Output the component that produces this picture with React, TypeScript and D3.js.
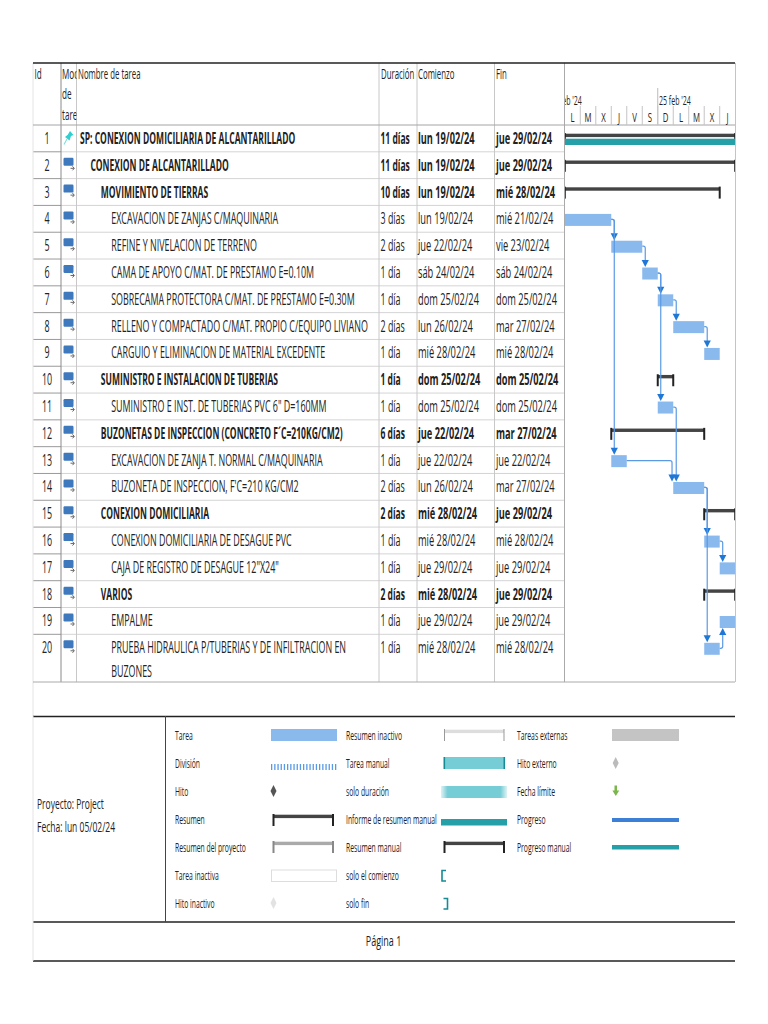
import React from "react";
import * as d3 from "d3";

const taskNames = [
  "SP: CONEXION DOMICILIARIA DE ALCANTARILLADO",
  "CONEXION DE ALCANTARILLADO",
  "MOVIMIENTO DE TIERRAS",
  "EXCAVACION DE ZANJAS C/MAQUINARIA",
  "REFINE Y NIVELACION DE TERRENO",
  "CAMA DE APOYO C/MAT. DE PRESTAMO E=0.10M",
  "SOBRECAMA PROTECTORA C/MAT. DE PRESTAMO E=0.30M",
  "RELLENO Y COMPACTADO C/MAT. PROPIO C/EQUIPO LIVIANO",
  "CARGUIO Y ELIMINACION DE MATERIAL EXCEDENTE",
  "SUMINISTRO E INSTALACION DE TUBERIAS",
  "SUMINISTRO E INST. DE TUBERIAS PVC 6\" D=160MM",
  "BUZONETAS DE INSPECCION (CONCRETO F´C=210KG/CM2)",
  "EXCAVACION DE ZANJA T. NORMAL C/MAQUINARIA",
  "BUZONETA DE INSPECCION, F'C=210 KG/CM2",
  "CONEXION DOMICILIARIA",
  "CONEXION DOMICILIARIA DE DESAGUE PVC",
  "CAJA DE REGISTRO DE DESAGUE 12\"X24\"",
  "VARIOS",
  "EMPALME",
  "PRUEBA HIDRAULICA P/TUBERIAS Y DE INFILTRACION EN|BUZONES",
];
const levels = [0, 1, 2, 3, 3, 3, 3, 3, 3, 2, 3, 2, 3, 3, 2, 3, 3, 2, 3, 3];
const durations = ["11 días", "11 días", "10 días", "3 días", "2 días", "1 día", "1 día", "2 días", "1 día", "1 día", "1 día", "6 días", "1 día", "2 días", "2 días", "1 día", "1 día", "2 días", "1 día", "1 día"];
const starts = ["lun 19/02/24", "lun 19/02/24", "lun 19/02/24", "lun 19/02/24", "jue 22/02/24", "sáb 24/02/24", "dom 25/02/24", "lun 26/02/24", "mié 28/02/24", "dom 25/02/24", "dom 25/02/24", "jue 22/02/24", "jue 22/02/24", "lun 26/02/24", "mié 28/02/24", "mié 28/02/24", "jue 29/02/24", "mié 28/02/24", "jue 29/02/24", "mié 28/02/24"];
const ends = ["jue 29/02/24", "jue 29/02/24", "mié 28/02/24", "mié 21/02/24", "vie 23/02/24", "sáb 24/02/24", "dom 25/02/24", "mar 27/02/24", "mié 28/02/24", "dom 25/02/24", "dom 25/02/24", "mar 27/02/24", "jue 22/02/24", "mar 27/02/24", "jue 29/02/24", "mié 28/02/24", "jue 29/02/24", "jue 29/02/24", "jue 29/02/24", "mié 28/02/24"];
const summaryIds = [1, 2, 3, 10, 12, 15, 18];
const dayLetters = ["L", "M", "X", "J", "V", "S", "D", "L", "M", "X", "J"];
// predecessor id, successor id
const links = [[4, 5], [5, 6], [6, 7], [7, 8], [8, 9], [6, 11], [4, 13], [11, 14], [13, 14], [14, 16], [16, 17], [14, 20], [20, 19]];

const legendCol1 = ["Tarea", "División", "Hito", "Resumen", "Resumen del proyecto", "Tarea inactiva", "Hito inactivo"];
const legendCol2 = ["Resumen inactivo", "Tarea manual", "solo duración", "Informe de resumen manual", "Resumen manual", "solo el comienzo", "solo fin"];
const legendCol3 = ["Tareas externas", "Hito externo", "Fecha límite", "Progreso", "Progreso manual"];

const FONT = "'Open Sans', sans-serif";
const parseDay = d3.timeParse("%d/%m/%y");
const dateOf = (s: string) => parseDay(s.split(" ")[1]) as Date;

const x = d3.scaleTime()
  .domain([new Date(2024, 1, 19), new Date(2024, 2, 1)])
  .range([564.8, 735.2]);
const rowTop = d3.scaleLinear().domain([0, 19]).range([125, 634.3]);
const legendY = d3.scalePoint<number>().domain([0, 1, 2, 3, 4, 5, 6]).range([735, 903]);

const barStart = (id: number) => x(dateOf(starts[id - 1]));
const barEnd = (id: number) => x(d3.timeDay.offset(dateOf(ends[id - 1]), 1));

const T = ({x: tx, y, children, bold, size = 15.5, sx = 0.575, anchor = "start", fill = "#222"}: any) => (
  <text
    transform={`translate(${tx},${y}) scale(${sx},1)`}
    fontFamily={FONT}
    fontSize={size}
    fontWeight={bold ? 700 : 400}
    textAnchor={anchor}
    fill={fill}
  >
    {children}
  </text>
);

const linkPath = (from: number, to: number) => {
  const x0 = barEnd(from);
  const sx = barStart(to);
  const bx = Math.abs(sx - x0) < 1 ? sx + 3 : sx - 1.2;
  const y0 = rowTop(from - 1) + 14;
  const up = to < from;
  const y1 = up ? rowTop(to - 1) + 20.5 : rowTop(to - 1) + 8;
  const dir = up ? -1 : 1;
  const p = d3.path();
  p.moveTo(x0, y0);
  p.lineTo(bx - 2, y0);
  p.quadraticCurveTo(bx, y0, bx, y0 + 2 * dir);
  p.lineTo(bx, y1 - 5 * dir);
  const a = d3.path();
  a.moveTo(bx - 3.6, y1 - 7 * dir);
  a.lineTo(bx + 3.6, y1 - 7 * dir);
  a.lineTo(bx, y1);
  a.closePath();
  return {line: p.toString(), head: a.toString()};
};

const SummaryBar = ({x0, x1, top, bar = "#444", cap = "#222", capW = 2, barH = 3.4}: any) => (
  <g>
    <rect x={x0} y={top + 0.7} width={x1 - x0} height={barH} fill={bar} />
    <rect x={x0 - capW / 2} y={top} width={capW} height={12} fill={cap} />
    <rect x={x1 - capW / 2} y={top} width={capW} height={12} fill={cap} />
  </g>
);

const diamond = (cx: number, cy: number, rx: number, ry: number) =>
  `M${cx},${cy - ry}L${cx + rx},${cy}L${cx},${cy + ry}L${cx - rx},${cy}Z`;

const TaskIcon = ({y}: {y: number}) => (
  <g>
    <rect x={63.5} y={y + 6} width={10} height={8} rx={1.2} fill="#3f79bd" />
    <path d={`M70.5,${y + 16.5}h3.5 M72.5,${y + 14.5}l1.8,2l-1.8,2`} fill="none" stroke="#666" strokeWidth={1} />
  </g>
);

const PinIcon = ({y}: {y: number}) => (
  <g>
    <path d={`M70,${y + 6}l3.5,4l-2.5,1l-1.5,4.5l-4.5,-3.5l2.8,-2.2z`} fill="#2fd0d0" />
    <path d={`M67,${y + 14}l-3,5.5`} stroke="#7adede" strokeWidth={1.1} />
  </g>
);

const App = () => {
  const dayStarts = d3.timeDay.range(new Date(2024, 1, 19), new Date(2024, 2, 1));
  const vLines = [61, 76.5, 379, 417, 494.5];
  const tableBottom = rowTop(19) + 47.7;

  return (
    <svg width={768} height={1024} style={{position: "absolute", left: 0, top: 0, background: "#fff"}}>
      <defs>
        <clipPath id="modeCol"><rect x={61} y={63} width={15.5} height={62} /></clipPath>
        <clipPath id="timeCol"><rect x={565} y={63} width={170} height={620} /></clipPath>
        <linearGradient id="durationFill">
          <stop offset="0" stopColor="#77cdd6" stopOpacity={0.25} />
          <stop offset="0.1" stopColor="#77cdd6" />
          <stop offset="0.9" stopColor="#77cdd6" />
          <stop offset="1" stopColor="#77cdd6" stopOpacity={0.25} />
        </linearGradient>
      </defs>

      {/* table grid */}
      {d3.range(1, 20).map((i) => (
        <g key={i}>
          <line x1={33} x2={61} y1={rowTop(i)} y2={rowTop(i)} stroke="#999" strokeWidth={1} />
          <line x1={61} x2={564} y1={rowTop(i)} y2={rowTop(i)} stroke="#d4d4d4" strokeWidth={1} />
        </g>
      ))}
      {vLines.map((v, i) => (
        <line key={v} x1={v} x2={v} y1={63} y2={tableBottom} stroke={i === 0 ? "#8a8a8a" : "#c8c8c8"} strokeWidth={1} />
      ))}
      <line x1={33} x2={33} y1={63} y2={716} stroke="#e4e4e4" strokeWidth={1} />
      <line x1={564.5} x2={564.5} y1={63} y2={tableBottom} stroke="#aaa" strokeWidth={1} />
      <line x1={735.5} x2={735.5} y1={63} y2={tableBottom} stroke="#c4c4c4" strokeWidth={1} />
      <line x1={33} x2={735} y1={125} y2={125} stroke="#a4a4a4" strokeWidth={1} />
      <line x1={33} x2={735} y1={tableBottom} y2={tableBottom} stroke="#aaa" strokeWidth={1} />
      <line x1={33} x2={735} y1={63} y2={63} stroke="#222" strokeWidth={1.4} />

      {/* header */}
      <T x={34.5} y={79} size={14.5} sx={0.56}>Id</T>
      <g clipPath="url(#modeCol)">
        <T x={62} y={79} size={14.5} sx={0.56}>Mod</T>
        <T x={62} y={99} size={14.5} sx={0.56}>de</T>
        <T x={62} y={120} size={14.5} sx={0.56}>tare</T>
      </g>
      <T x={78} y={79} size={14.5} sx={0.54}>Nombre de tarea</T>
      <T x={381} y={79} size={14.5} sx={0.54}>Duración</T>
      <T x={418} y={79} size={14.5} sx={0.54}>Comienzo</T>
      <T x={496} y={79} size={14.5} sx={0.54}>Fin</T>
      <g clipPath="url(#timeCol)">
        <T x={550} y={105} size={13} sx={0.54}>18 feb '24</T>
        <T x={659} y={105} size={13} sx={0.54}>25 feb '24</T>
      </g>
      <line x1={x(new Date(2024, 1, 25))} x2={x(new Date(2024, 1, 25))} y1={88} y2={125} stroke="#bbb" />
      {dayStarts.map((d, i) => (
        <g key={i}>
          {i > 0 && <line x1={x(d)} x2={x(d)} y1={106} y2={125} stroke="#c4c4c4" />}
          <T x={x(d3.timeHour.offset(d, 12))} y={122} size={13} sx={0.6} anchor="middle">{dayLetters[i]}</T>
        </g>
      ))}

      {/* rows */}
      {taskNames.map((name, i) => {
        const top = rowTop(i);
        const bold = summaryIds.includes(i + 1);
        const lines = name.split("|");
        const nameX = 80 + levels[i] * 10.4;
        const textSx = bold ? 0.55 : 0.575;
        const dateSx = bold ? 0.595 : 0.6;
        return (
          <g key={i}>
            <T x={47} y={top + 19} anchor="middle">{i + 1}</T>
            {i === 0 ? <PinIcon y={top} /> : <TaskIcon y={top} />}
            {lines.map((l, j) => (
              <T key={j} x={nameX} y={top + 19 + j * 24} bold={bold} sx={textSx}>{l}</T>
            ))}
            <T x={380.5} y={top + 19} bold={bold} sx={textSx}>{durations[i]}</T>
            <T x={418} y={top + 19} bold={bold} sx={dateSx}>{starts[i]}</T>
            <T x={496} y={top + 19} bold={bold} sx={dateSx}>{ends[i]}</T>
          </g>
        );
      })}

      {/* bars */}
      <g clipPath="url(#timeCol)">
        {taskNames.map((_, i) => {
          const id = i + 1;
          const top = rowTop(i);
          if (summaryIds.includes(id)) {
            return <SummaryBar key={id} x0={barStart(id)} x1={barEnd(id)} top={top + 8} />;
          }
          return (
            <rect key={id} x={barStart(id)} y={top + 8.5} width={barEnd(id) - barStart(id)} height={12} fill="#8ab9ee" />
          );
        })}
        <rect x={barStart(1)} y={rowTop(0) + 13.7} width={barEnd(1) - barStart(1)} height={6.3} fill="#26a0a8" />
        {links.map(([from, to]) => {
          const {line, head} = linkPath(from, to);
          return (
            <g key={`${from}-${to}`}>
              <path d={line} fill="none" stroke="#5a9ae4" strokeWidth={1.2} />
              <path d={head} fill="#1f78d8" />
            </g>
          );
        })}
      </g>

      {/* legend frame */}
      <line x1={33} x2={735} y1={716.5} y2={716.5} stroke="#222" strokeWidth={1.4} />
      <line x1={33} x2={735} y1={922} y2={922} stroke="#222" strokeWidth={1.4} />
      <line x1={33} x2={735} y1={961} y2={961} stroke="#222" strokeWidth={1.4} />
      <line x1={165.5} x2={165.5} y1={716} y2={922} stroke="#444" strokeWidth={1} />
      <line x1={33} x2={33} y1={716} y2={961} stroke="#e4e4e4" strokeWidth={1} />
      <T x={37} y={809} size={15} sx={0.565}>Proyecto: Project</T>
      <T x={37} y={832} size={15} sx={0.57}>Fecha: lun 05/02/24</T>
      <T x={383.5} y={946} size={15} sx={0.6} anchor="middle">Página 1</T>

      {legendCol1.map((l, i) => <T key={l} x={175} y={(legendY(i) as number) + 5} size={12.5} sx={0.545}>{l}</T>)}
      {legendCol2.map((l, i) => <T key={l} x={346} y={(legendY(i) as number) + 5} size={12.5} sx={0.545}>{l}</T>)}
      {legendCol3.map((l, i) => <T key={l} x={517} y={(legendY(i) as number) + 5} size={12.5} sx={0.545}>{l}</T>)}

      {/* legend swatches */}
      <rect x={271} y={729} width={66} height={12} fill="#8ab9ee" />
      <line x1={271} x2={337} y1={767} y2={767} stroke="#5a9ae4" strokeWidth={6} strokeDasharray="1.3 1.9" />
      <path d={diamond(273.5, 791, 3, 6)} fill="#555" />
      <SummaryBar x0={273.5} x1={333} top={814} />
      <SummaryBar x0={273.5} x1={333} top={841} bar="#aaa" cap="#888" />
      <rect x={271.5} y={870} width={65} height={11.5} fill="#fff" stroke="#ddd" />
      <path d={diamond(273.5, 903, 3, 6)} fill="#e2e2e2" />

      <SummaryBar x0={444.5} x1={504} top={729} bar="#ddd" cap="#999" capW={1} />
      <rect x={444} y={757} width={60} height={12} fill="#77cdd6" />
      <rect x={443.5} y={757} width={1.6} height={12} fill="#168b94" />
      <rect x={503.5} y={757} width={1.6} height={12} fill="#168b94" />
      <rect x={441} y={786} width={66} height={12} fill="url(#durationFill)" />
      <rect x={441} y={819} width={66} height={6.5} fill="#26a0a8" />
      <SummaryBar x0={444.5} x1={504} top={841} cap="#222" />
      <path d="M446,870.5h-4v10.5h4" fill="none" stroke="#168b94" strokeWidth={1.6} />
      <path d="M443.5,898.5h4v10.5h-4" fill="none" stroke="#168b94" strokeWidth={1.6} />

      <rect x={612} y={729} width={67} height={12} fill="#c4c4c4" />
      <path d={diamond(615.7, 763, 3, 6)} fill="#bbb" />
      <path d="M614.5,785.5h2.5v5h2.2l-3.4,5.5l-3.4,-5.5h2.1z" fill="#7ab648" />
      <rect x={612} y={818} width={67} height={4} fill="#3b7fd6" />
      <rect x={612} y={845} width={67} height={4.5} fill="#26a0a8" />
    </svg>
  );
};

export default App;
